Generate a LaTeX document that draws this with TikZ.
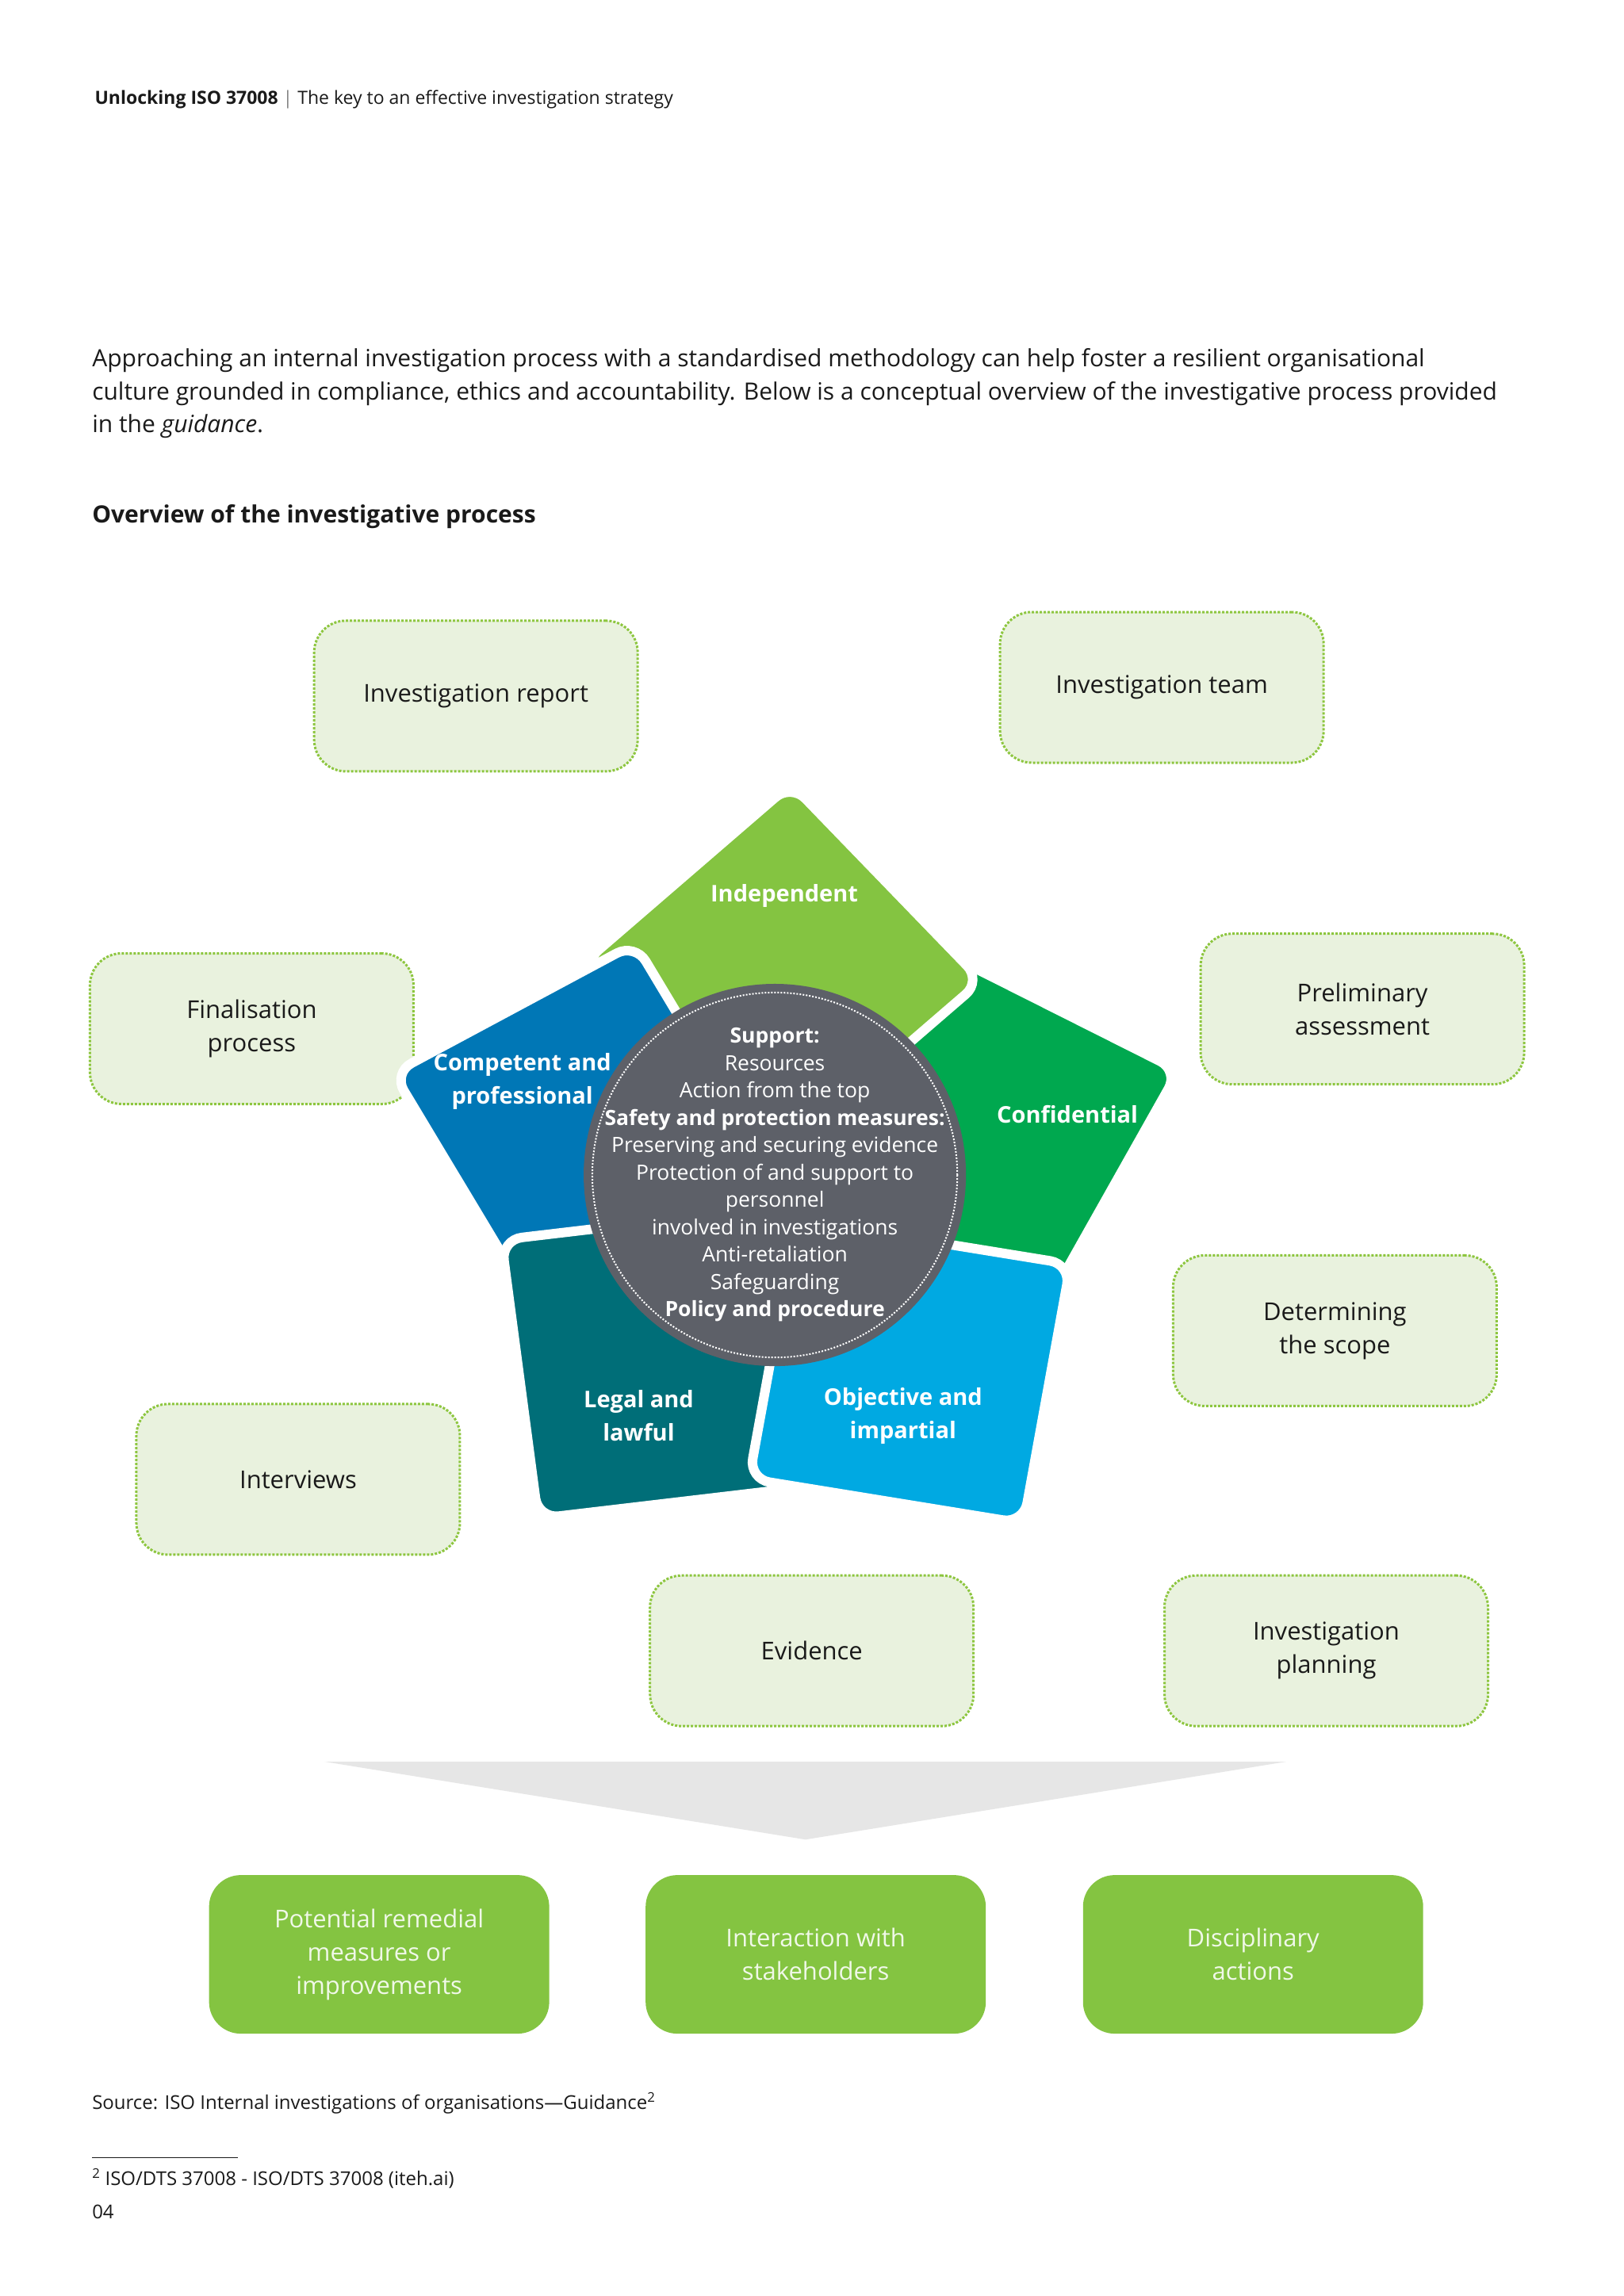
\documentclass[tikz,border=0pt]{standalone}
\usepackage{fontspec}
\setmainfont{Open Sans}
\usetikzlibrary{calc}
\definecolor{boxfill}{HTML}{E9F2DE}
\definecolor{boxline}{HTML}{8DC63F}
\definecolor{lgreen}{HTML}{84C441}
\definecolor{dgreen}{HTML}{00A84F}
\definecolor{pblue}{HTML}{0077B6}
\definecolor{teal}{HTML}{006E78}
\definecolor{sky}{HTML}{00A9E2}
\definecolor{cgray}{HTML}{5D6068}
\definecolor{tri}{HTML}{E6E6E6}
\definecolor{txt}{HTML}{1A1A1A}
\begin{document}
\begin{tikzpicture}[x=0.992pt,y=-0.992pt,
  dbox/.style={draw=boxline,dotted,line width=3pt,fill=boxfill,rounded corners=40pt,minimum width=408pt,minimum height=190pt,align=center,text=txt,font=\fontsize{31}{42}\selectfont},
  gbox/.style={fill=lgreen,rounded corners=40pt,minimum width=429pt,minimum height=200pt,align=center,text=white!88!lgreen,font=\fontsize{31}{42}\selectfont},
  plabel/.style={text=white,align=center,font=\bfseries\fontsize{29}{42}\selectfont},
  petal/.style={rounded corners=26pt,draw=white,line width=12pt}]
\path[fill=white,use as bounding box] (0,0) rectangle (2064.5,2919.4);
\node[anchor=base west,text=txt,font=\fontsize{23}{28}\selectfont] (hdr) at (117,133) {\textbf{Unlocking ISO 37008} \textcolor{gray}{|} The key to an effective investigation strategy};
\node[anchor=north west,align=left,inner sep=0pt,text=txt,font=\fontsize{30}{41.5}\selectfont] (para) at (117,443) {Approaching an internal investigation process with a standardised methodology can help foster a resilient organisational\\culture grounded in compliance, ethics and accountability. Below is a conceptual overview of the investigative process provided\\in the \textit{guidance}.};
\node[anchor=base west,inner sep=0pt,text=txt,font=\bfseries\fontsize{30}{40}\selectfont] (ov) at (117,665) {Overview of the investigative process};
% boxes
\node[dbox] (rep) at (605,885) {Investigation report};
\node[dbox] (team) at (1477,874) {Investigation team};
\node[dbox] (fin) at (320,1308) {Finalisation\\process};
\node[dbox] (pre) at (1732,1283) {Preliminary\\assessment};
\node[dbox] (scope) at (1697,1692) {Determining\\the scope};
\node[dbox] (int) at (379,1881) {Interviews};
\node[dbox] (evi) at (1032,2099) {Evidence};
\node[dbox] (plan) at (1686,2099) {Investigation\\planning};
% pentagon petals (bottom to top)
\begin{scope}[shift={(985,1490)},xscale=1.09,yscale=1.03,shift={(-985,-1490)}]
\draw[petal,fill=dgreen] (1456,1365) -- (1299,1660) -- (1004,1503) -- (1161,1208) -- cycle;
\draw[petal,fill=lgreen] (1004,1011) -- (1226,1254) -- (983,1476) -- (761,1233) -- cycle;
\draw[petal,fill=pblue] (540,1368) -- (822,1208) -- (982,1490) -- (700,1650) -- cycle;
\draw[petal,fill=teal] (709,1918) -- (666,1574) -- (1010,1531) -- (1053,1875) -- cycle;
\draw[petal,fill=sky] (955,1869) -- (1275,1924) -- (1330,1604) -- (1010,1549) -- cycle;
\end{scope}
\node[plabel] (ind) at (997,1139) {Independent};
\node[plabel] (conf) at (1357,1417) {Confidential};
\node[plabel] (comp) at (664,1375) {Competent and\\professional};
\node[plabel] (leg) at (812,1800) {Legal and\\lawful};
\node[plabel] (obj) at (1148,1800) {Objective and\\impartial};
\fill[cgray] (985,1494) circle (243);
\draw[white,dotted,line width=2pt] (985,1494) circle (232);
\node[text=white,align=center,font=\fontsize{26.5}{34.5}\selectfont] (sup) at (985,1494) {\textbf{Support:}\\Resources\\Action from the top\\\textbf{Safety and protection measures:}\\Preserving and securing evidence\\Protection of and support to\\personnel\\involved in investigations\\Anti-retaliation\\Safeguarding\\\textbf{Policy and procedure}};
% funnel
\fill[tri] (413,2240) -- (1635,2240) -- (1024,2339) -- cycle;
\node[gbox] (rem) at (482,2485) {Potential remedial\\measures or\\improvements};
\node[gbox] (ia) at (1037,2485) {Interaction with\\stakeholders};
\node[gbox] (dis) at (1593,2485) {Disciplinary\\actions};
\node[anchor=base west,inner sep=0pt,text=txt,font=\fontsize{24}{30}\selectfont] (src) at (117,2682) {Source: ISO Internal investigations of organisations—Guidance\textsuperscript{2}};
\draw[line width=1pt,txt] (117,2743) -- (302,2743);
\node[anchor=base west,inner sep=0pt,text=txt,font=\fontsize{24}{30}\selectfont] (fn) at (117,2779) {\textsuperscript{2} ISO/DTS 37008 - ISO/DTS 37008 (iteh.ai)};
\node[anchor=base west,inner sep=0pt,text=txt,font=\fontsize{24}{30}\selectfont] (pg) at (117,2821) {04};
\end{tikzpicture}
\end{document}
